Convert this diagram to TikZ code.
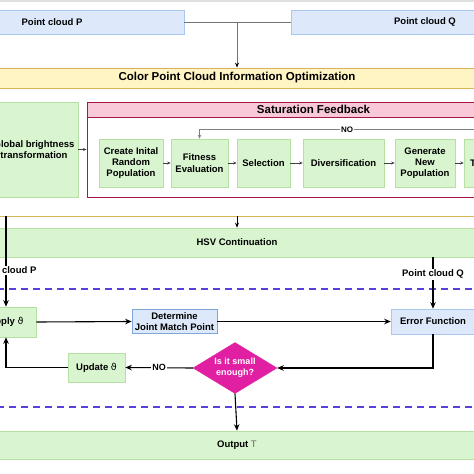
\documentclass[tikz,border=0pt]{standalone}
\usepackage{fontspec}
\setmainfont{Liberation Sans}
\newfontfamily\dejavu{DejaVu Sans}
\usetikzlibrary{arrows.meta,shapes.geometric}
\definecolor{gfill}{HTML}{D8F5CF}
\definecolor{gdraw}{HTML}{B5DFA3}
\definecolor{bfill}{HTML}{DDE9FB}
\definecolor{bdraw}{HTML}{AAC7EE}
\definecolor{bdark}{HTML}{7EA6D8}
\definecolor{yfill}{HTML}{FFF4C4}
\definecolor{ydraw}{HTML}{D6B656}
\definecolor{pfill}{HTML}{F9C9DA}
\definecolor{pdraw}{HTML}{A5173F}
\definecolor{magen}{HTML}{E01FA3}
\definecolor{dashcol}{HTML}{5B3FD9}
\newcommand{\thet}{{\dejavu\mdseries ϑ}}
\begin{document}
\begin{tikzpicture}[x=1pt,y=-1pt,
  font=\fontsize{9.5}{11.3}\selectfont\bfseries,
  box/.style={rectangle,inner sep=0pt,align=center,line width=0.6pt},
  gbox/.style={box,fill=gfill,draw=gdraw},
  bbox/.style={box,fill=bfill,draw=bdraw},
  bdbox/.style={box,fill=bfill,draw=bdark},
  conn/.style={line width=1.1pt,black,-{Stealth[length=6.5pt,width=5.5pt]}},
  smallarr/.style={line width=0.6pt,black!75,-{Stealth[length=3.5pt,width=3pt]}},
  grayline/.style={line width=0.8pt,black!55},
  fbline/.style={line width=0.8pt,black!50,-{Stealth[length=4pt,width=3.5pt]}},
  lab/.style={fill=white,inner sep=1pt},
  dashline/.style={line width=1.6pt,dashcol,dash pattern=on 7pt off 5pt},
  hdrfont/.style={font=\fontsize{11.5}{13}\selectfont\bfseries}]
\useasboundingbox (0,0) rectangle (474,474);
\clip (0,0) rectangle (474,474);
\fill[black!12] (0,0) rectangle (474,2);

% top point clouds
\node[bbox,minimum width=264pt,minimum height=24pt] (P) at (52,22) {Point cloud P};
\node[bbox,minimum width=268pt,minimum height=24pt] (Q) at (425,22) {Point cloud Q};
\coordinate (jn) at (237,22);

% yellow frame
\draw[ydraw,line width=0.8pt] (-5,68) rectangle (479,216);
\node[box,fill=yfill,draw=ydraw,line width=0.8pt,minimum width=484pt,minimum height=20pt,hdrfont] (hdr) at (237,78) {Color Point Cloud Information Optimization};
\draw[grayline] (P.east) -- (jn);
\draw[grayline] (Q.west) -- (jn);
\draw[line width=0.8pt,black!55,-{Stealth[length=5pt,width=4pt,color=black]}] (jn) -- (hdr.north);

% global brightness
\node[gbox,minimum width=88pt,minimum height=95pt] (glob) at (34,149.5) {Global brightness\\transformation};

% saturation feedback
\node[box,draw=pdraw,line width=0.9pt,minimum width=453pt,minimum height=95pt] (sat) at (313.5,149.5) {};
\node[box,fill=pfill,draw=pdraw,line width=0.9pt,minimum width=453pt,minimum height=15pt,hdrfont] (sathdr) at (313.5,109.5) {Saturation Feedback};
\draw[smallarr] (glob.east) -- (sat.west);

\node[gbox,minimum width=64pt,minimum height=48pt] (create) at (131,163) {Create Inital\\Random\\Population};
\node[gbox,minimum width=57pt,minimum height=48pt] (fit) at (199.5,163) {Fitness\\Evaluation};
\node[gbox,minimum width=53pt,minimum height=48pt] (sel) at (263.5,163) {Selection};
\node[gbox,minimum width=81pt,minimum height=48pt] (div) at (343.5,163) {Diversification};
\node[gbox,minimum width=60pt,minimum height=48pt] (gen) at (425,163) {Generate\\New\\Population};
\node[gbox,minimum width=66pt,minimum height=48pt] (term) at (497,163) {Termination};
\draw[smallarr] (create) -- (fit);
\draw[smallarr] (fit) -- (sel);
\draw[smallarr] (sel) -- (div);
\draw[smallarr] (div) -- (gen);
\draw[smallarr] (gen) -- (term);
\draw[fbline] (term.north) -- ++(0,-9) -| (fit.north);
\node[lab,font=\fontsize{8}{9}\selectfont\bfseries] (no1) at (347,130) {NO};

% HSV
\coordinate (ybot) at (237,216);
\node[gbox,minimum width=484pt,minimum height=29pt] (hsv) at (237,242.5) {HSV Continuation};
\draw[line width=0.8pt,black,-{Stealth[length=5pt,width=4pt]}] (ybot) -- (hsv.north);

% dashed separators
\draw[dashline] (-3,289) -- (477,289);
\draw[dashline] (-3,407) -- (477,407);

% lower loop
\node[gbox,minimum width=60pt,minimum height=30pt] (apply) at (6,322) {Apply \thet};
\node[bdbox,minimum width=85pt,minimum height=24pt] (det) at (174.5,321.5) {Determine\\Joint Match Point};
\node[bbox,minimum width=84pt,minimum height=25pt] (err) at (433,321.5) {Error Function};
\node[diamond,fill=magen,draw=magen,text=white,inner sep=0pt,aspect=1.65,minimum width=84pt,minimum height=51pt,align=center,font=\fontsize{9}{11}\selectfont\bfseries] (dia) at (235,368) {Is it small\\enough?};
\node[gbox,minimum width=57pt,minimum height=29pt] (upd) at (96.5,367.5) {Update \thet};
\node[gbox,minimum width=484pt,minimum height=28pt] (out) at (237,445) {Output {\mdseries\color{black!60}T}};

\coordinate (lbot) at (6,216);
\draw[conn] (lbot) -- node[lab,pos=0.6] {Point cloud P} (apply.north);
\draw[conn] (err.north |- hsv.south) -- node[lab,pos=0.33] {Point cloud Q} (err.north);
\draw[conn] (apply.east) -- (det.west);
\draw[conn] (det.east) -- (err.west);
\draw[conn] (err.south) |- (dia.east);
\draw[conn] (dia.west) -- node[lab,font=\fontsize{9}{10}\selectfont\bfseries] {NO} (upd.east);
\draw[conn] (upd.west) -| (apply.south);
\draw[conn] (dia.south) -- (out.north);
\end{tikzpicture}
\end{document}
